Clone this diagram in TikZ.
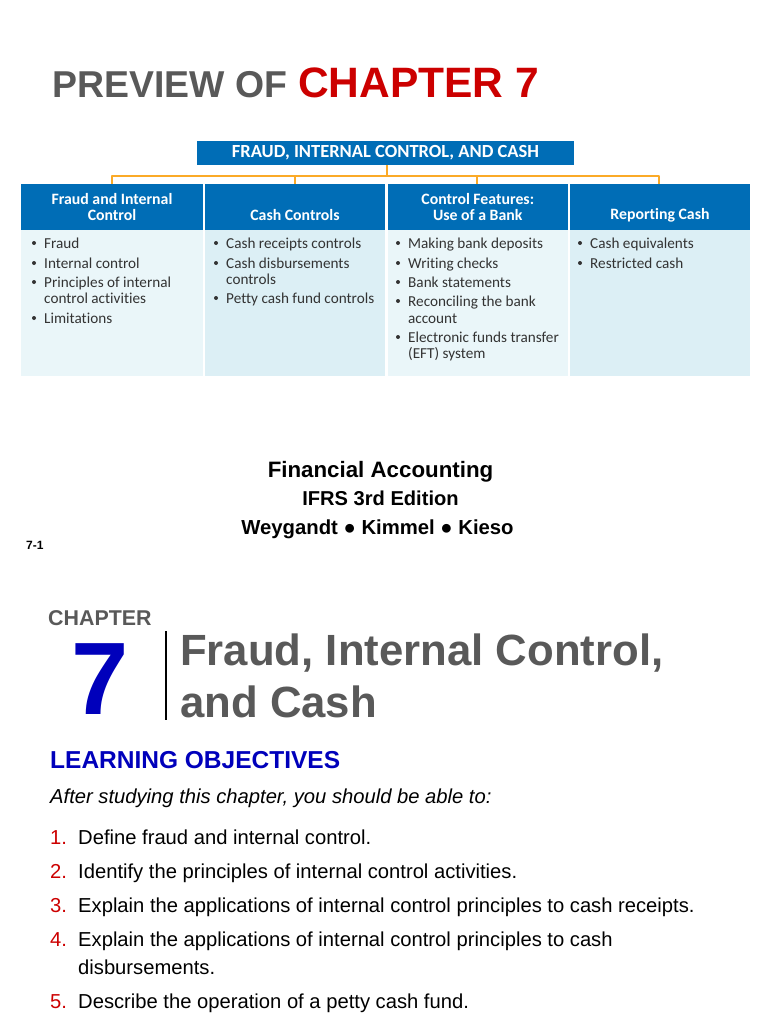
\documentclass[tikz,border=0pt]{standalone}
\usepackage{fontspec}
\setmainfont{Liberation Sans}
\newfontfamily\tablefont[Ligatures=NoCommon]{Carlito}
\newcommand{\fsz}[1]{\fontsize{#1}{#1}\selectfont}
\definecolor{headblue}{HTML}{006DB6}
\definecolor{busorange}{HTML}{FBAA27}
\definecolor{bodylight}{HTML}{EAF6F9}
\definecolor{bodydark}{HTML}{DCEFF5}
\definecolor{titlegray}{HTML}{595959}
\definecolor{redmark}{HTML}{CC0000}
\definecolor{bluemark}{HTML}{0000BB}
\tikzset{
	headbox/.style={fill=headblue,text=white,inner sep=0pt,minimum height=46pt,align=center,font=\tablefont\bfseries\fsz{15.8}},
	bodybox/.style={inner sep=0pt,minimum height=146pt},
	itemtext/.style={anchor=base west,inner sep=0pt,text=black!80,font=\tablefont\fsz{15.2}},
	txt/.style={anchor=base west,inner sep=0pt},
	ctxt/.style={anchor=base,inner sep=0pt},
	busline/.style={draw=busorange,line width=2.6pt},
}
\begin{document}
\begin{tikzpicture}[x=1pt,y=-1pt,line join=round]
	\useasboundingbox (0,0) rectangle (768,1024);
	% heading
	\node[txt,text=titlegray,font=\bfseries\fsz{37.4}] (prev) at (52,98) {PREVIEW OF};
	\node[txt,text=redmark,font=\bfseries\fsz{42.5}] (chap) at (298,97.5) {CHAPTER 7};
	% table
	\node[headbox,minimum width=377pt,minimum height=24pt,font=\tablefont\bfseries\fsz{18.5}] (top) at (385.5,153) {FRAUD, INTERNAL CONTROL, AND CASH};
	\foreach \n/\cx/\w/\c/\t in {1/112/182/bodylight/{Fraud and Internal\\[1pt]Control},2/295/180/bodydark/{\phantom{Fg}\\[1pt]Cash Controls},3/477.75/180.5/bodylight/{Control Features:\\[1pt]Use of a Bank},4/660/180/bodydark/{\phantom{Fg}\\[1pt]Reporting Cash}}{
		\node[headbox,minimum width=\w pt] (head\n) at (\cx,207) {\t};
		\node[bodybox,fill=\c,minimum width=\w pt] (body\n) at (\cx,303) {};
	}
	\coordinate (bust) at (387,176);
	\coordinate (busa) at (head1.north|-bust);
	\coordinate (busd) at (659,176);
	\draw[busline] (head1.north) -- (busa) -- (busd) -- (busd|-head4.north);
	\draw[busline] (top.south-|bust) -- (bust);
	\draw[busline] (head2.north) -- (head2.north|-bust);
	\draw[busline] (477,184) -- (477,176);
	\foreach \x/\y/\t in {44/248/Fraud,44/268/Internal control,44/287/Principles of internal,44/303/control activities,44/323/Limitations,
		226/248/Cash receipts controls,226/268/Cash disbursements,226/284/controls,226/303/Petty cash fund controls,
		408/248/Making bank deposits,408/268/Writing checks,408/287/Bank statements,408/306/Reconciling the bank,408/323/account,408/342/Electronic funds transfer,408/358/(EFT) system,
		590/248/Cash equivalents,590/268/Restricted cash}{
		\node[itemtext] at (\x,\y) {\t};
	}
	\foreach \x/\y in {34/243,34/263,34/282,34/318,216/243,216/263,216/298,398/243,398/263,398/282,398/301,398/337,580/243,580/263}{
		\fill[black!80] (\x,\y) circle (2pt);
	}
	% book lines
	\node[ctxt,font=\bfseries\fsz{22.3}] (book) at (380.5,477) {Financial Accounting};
	\node[ctxt,font=\bfseries\fsz{20.1}] (edit) at (380.5,505) {IFRS 3rd Edition};
	\node[ctxt,font=\bfseries\fsz{20.3}] (auth) at (377.5,534) {Weygandt ● Kimmel ● Kieso};
	\node[txt,font=\bfseries\fsz{12}] (pageno) at (26,549) {7-1};
	% second slide
	\node[txt,text=titlegray,font=\bfseries\fsz{21.4}] (chword) at (48,625) {CHAPTER};
	\node[ctxt,text=bluemark,font=\bfseries\fsz{103}] (chnum) at (100,714) {7};
	\draw[line width=1.5pt] (166,631) -- (166,720);
	\node[txt,text=titlegray,font=\bfseries\fsz{43.7}] (fr) at (180,665.5) {Fraud, Internal Control,};
	\node[txt,text=titlegray,font=\bfseries\fsz{43.7}] (ac) at (180,717.5) {and Cash};
	\node[txt,text=bluemark,font=\bfseries\fsz{24.5}] (lo) at (50,768) {LEARNING OBJECTIVES};
	\node[txt,font=\itshape\fsz{20.2}] (after) at (50,803) {After studying this chapter, you should be able to:};
	\foreach \n/\y/\t in {1/844/Define fraud and internal control.,2/878/Identify the principles of internal control activities.,3/912/Explain the applications of internal control principles to cash receipts.,4/946/Explain the applications of internal control principles to cash,5/1008/Describe the operation of a petty cash fund.}{
		\node[txt,text=redmark,font=\fsz{20.2}] (num\n) at (50,\y) {\n.};
		\node[txt,font=\fsz{20.2}] (obj\n) at (78,\y) {\t};
	}
	\node[txt,font=\fsz{20.2}] (objx) at (78,974) {disbursements.};
\end{tikzpicture}
\end{document}
